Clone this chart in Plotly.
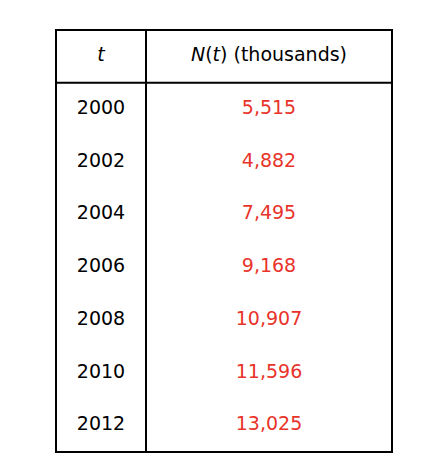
import plotly.graph_objects as go

years = ["2000", "2002", "2004", "2006", "2008", "2010", "2012"]
values = ["5,515", "4,882", "7,495", "9,168", "10,907", "11,596", "13,025"]
headers = ["<i>t</i>", "<i>N</i>(<i>t</i>) (thousands)"]
rows = ["hdr"] + years

font = "DejaVu Sans"
fig = go.Figure()
fig.add_trace(go.Scatter(x=[0, 1], y=["hdr", "hdr"], mode="text", text=headers,
                         textfont=dict(family=font, size=19, color="black"), hoverinfo="skip"))
fig.add_trace(go.Scatter(x=[0]*len(years), y=years, mode="text", text=years,
                         textfont=dict(family=font, size=19, color="black"), hoverinfo="skip"))
fig.add_trace(go.Scatter(x=[1]*len(years), y=years, mode="text", text=values,
                         textfont=dict(family=font, size=19, color="#e8332a"), hoverinfo="skip"))

W, H = 336, 422
fig.update_xaxes(range=[-45/168, (W-45)/168], visible=False, fixedrange=True)
fig.update_yaxes(type="category", categoryorder="array", categoryarray=rows,
                 range=[len(rows)-0.5, -0.5], visible=False, fixedrange=True)
line = dict(color="black", width=2)
fig.add_shape(type="rect", xref="paper", yref="paper", x0=0, x1=1, y0=0, y1=1, line=line)
fig.add_shape(type="line", xref="paper", yref="paper", x0=90/W, x1=90/W, y0=0, y1=1, line=line)
fig.add_shape(type="line", xref="paper", yref="paper", x0=0, x1=1, y0=1-H/len(rows)/H, y1=1-H/len(rows)/H, line=line)
fig.update_layout(width=422, height=466, margin=dict(l=48, r=38, t=22, b=22),
                  paper_bgcolor="white", plot_bgcolor="white", showlegend=False)
fig.write_html("out.html")
